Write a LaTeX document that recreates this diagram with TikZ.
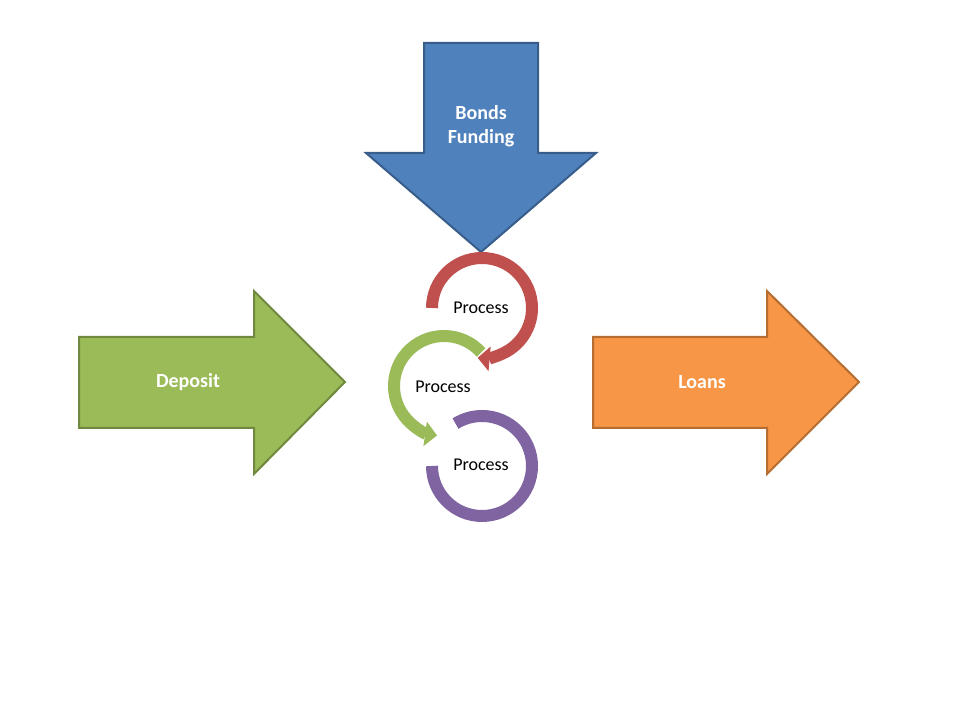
\documentclass[tikz,border=0pt]{standalone}
\usepackage{fontspec}
\setmainfont{Carlito}
\usetikzlibrary{arrows.meta}
\definecolor{cblue}{HTML}{4F81BD}\definecolor{cblueb}{HTML}{385D8A}
\definecolor{cgreen}{HTML}{9BBB59}\definecolor{cgreenb}{HTML}{71893F}
\definecolor{corange}{HTML}{F79646}\definecolor{coranb}{HTML}{B66D31}
\definecolor{cred}{HTML}{C0504D}\definecolor{cpurp}{HTML}{8064A2}
\begin{document}
\begin{tikzpicture}[x=0.75pt,y=0.75pt,
  bigarrow/.style={line width=1.5pt,line join=miter},
  biglabel/.style={text=white,font=\bfseries\fontsize{15}{18}\selectfont,align=center},
  proclabel/.style={font=\fontsize{13.5}{16}\selectfont},
  ring/.style={line width=9pt}]
\useasboundingbox (0,0) rectangle (960,720);
% Bonds
\draw[bigarrow,fill=cblue,draw=cblueb] (424,677)--(538,677)--(538,567)--(596,567)--(481,468)--(366,567)--(424,567)--cycle;
\node[biglabel] (bonds) at (481,594) {Bonds\\Funding};
% Deposit
\draw[bigarrow,fill=cgreen,draw=cgreenb] (79,383)--(254,383)--(254,429)--(345,338)--(254,246)--(254,292)--(79,292)--cycle;
\node[biglabel] (deposit) at (188,338) {Deposit};
% Loans
\draw[bigarrow,fill=corange,draw=coranb] (593,383)--(767,383)--(767,429)--(859,338)--(767,246)--(767,292)--(593,292)--cycle;
\node[biglabel] (loans) at (702,338) {Loans};
% rings
\coordinate (pc) at (482,254);
\coordinate (gc) at (444,334);
\coordinate (rc) at (482,412);
\draw[ring,cpurp] (pc) ++(180:50) arc[start angle=180,end angle=482,radius=50];
\draw[ring,cgreen,-{Triangle[width=18pt,length=9pt]}] (gc) ++(42:50) arc[start angle=42,end angle=262,radius=50];
\draw[ring,cred,-{Triangle[width=18pt,length=9pt]}] (rc) ++(180:50) arc[start angle=180,end angle=-95,radius=50];
\node[proclabel] (p1) at (481,412) {Process};
\node[proclabel] (p2) at (443,333) {Process};
\node[proclabel] (p3) at (481,255) {Process};
\end{tikzpicture}
\end{document}
